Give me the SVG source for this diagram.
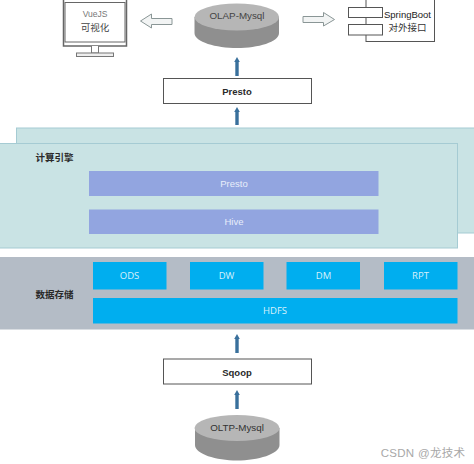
<svg xmlns="http://www.w3.org/2000/svg" width="474" height="464" viewBox="0 0 474 464">
<style>
text{font-family:"Liberation Sans","Noto Sans CJK SC",sans-serif;text-anchor:middle;dominant-baseline:central}
.seg{font-family:"Open Sans","Noto Sans CJK SC",sans-serif}
.box{fill:#fff;stroke:#555;stroke-width:1}
.teal{fill:#c9e3e4;stroke:#a5cbd3;stroke-width:1}
.pur{fill:#92a5e0}
.blu{fill:#00aeef}
.w{fill:#e8eefa;font-size:9.500px}
.c{fill:#d8f1fb;font-size:9.500px}
.hollow{fill:#f2f4f4;stroke:#8a9696;stroke-width:1}
.up{fill:#39709c}
.dbt{fill:#b6b6b6}
.dbs{fill:#8f8f8f}
.k{fill:#2a2a2a;font-size:9.500px;font-weight:bold}
.sys{fill:#444;font-size:9.500px}
</style>
<rect width="474" height="464" fill="#fff"/>
<g id="connectors">
<path class="hollow" d="M172 18.500V24.500H151.500V28L140.500 21L151.500 14V18.500Z"/>
<path class="hollow" d="M303 16.500V22.500H323.500V26L334.500 19.500L323.500 12.500V16.500Z"/>
<path class="up" d="M235.300 76V62H234.200L237 57L239.800 62H238.700V76Z"/>
<path class="up" d="M235.300 125V112H234.200L237 107L239.800 112H238.700V125Z"/>
<path class="up" d="M235.300 353V339H234.200L237 334L239.800 339H238.700V353Z"/>
<path class="up" d="M235.300 409V395H234.200L237 390L239.800 395H238.700V409Z"/>
</g>
<g id="vuejs">
<rect x="63.500" y="-3" width="63" height="49" fill="#fff" stroke="#666" stroke-width="1.500"/>
<rect x="65" y="2.500" width="60" height="39.500" fill="#fff" stroke="#666"/>
<path d="M91.500 46V53H98.500V46" fill="#fff" stroke="#777"/>
<rect x="76.500" y="53" width="37" height="3.500" fill="#eee" stroke="#777"/>
<text x="95" y="14" fill="#777" font-size="8.500">VueJS</text>
<text x="95" y="27" class="sys">可视化</text>
</g>
<g id="olap-mysql">
<path class="dbs" d="M194.500 17V33C194.500 42 216 48 237 48S279 42 279 33V17Z"/>
<ellipse class="dbt" cx="236.800" cy="17" rx="42.300" ry="13.500"/>
<text x="237" y="15" fill="#444" font-size="9.800">OLAP-Mysql</text>
</g>
<g id="springboot">
<rect x="366" y="-2" width="68.500" height="43.500" fill="#fff" stroke="#555"/>
<rect x="348.500" y="7.500" width="34" height="10" fill="#fff" stroke="#555"/>
<rect x="348.500" y="24.500" width="34" height="10.500" fill="#fff" stroke="#555"/>
<text x="407.500" y="14.500" fill="#222" font-size="9.500">SpringBoot</text>
<text x="407.500" y="27.500" fill="#333" font-size="9.500">对外接口</text>
</g>
<g id="presto-box">
<rect class="box" x="163.500" y="78.500" width="148" height="25"/>
<text x="237" y="91" class="k">Presto</text>
</g>
<g id="compute">
<rect class="teal" x="16.500" y="128" width="458" height="105"/>
<rect class="teal" x="-1" y="143.500" width="458.500" height="104.500"/>
<text x="54.500" y="157" class="k">计算引擎</text>
<g id="compute-presto"><rect class="pur" x="89" y="171" width="289.500" height="25"/><text x="234" y="183.500" class="w">Presto</text></g>
<g id="compute-hive"><rect class="pur" x="89" y="209.500" width="289.500" height="24.500"/><text x="234" y="221.500" class="w">Hive</text></g>
</g>
<g id="storage">
<rect x="0" y="257" width="474" height="72.500" fill="#b4bcc6"/>
<text x="54.500" y="294" class="k">数据存储</text>
<g id="ods"><rect class="blu" x="93" y="262" width="73.500" height="27.500"/><text x="129.500" y="275.500" class="c seg">ODS</text></g>
<g id="dw"><rect class="blu" x="190" y="262" width="73.500" height="27.500"/><text x="226.500" y="275.500" class="c seg">DW</text></g>
<g id="dm"><rect class="blu" x="286.500" y="262" width="73.500" height="27.500"/><text x="323.500" y="275.500" class="c seg">DM</text></g>
<g id="rpt"><rect class="blu" x="384" y="262" width="73.500" height="27.500"/><text x="420.500" y="275.500" class="c seg">RPT</text></g>
<g id="hdfs"><rect class="blu" x="93" y="298" width="364.500" height="25.500"/><text x="275" y="310.500" class="c seg">HDFS</text></g>
</g>
<g id="sqoop-box">
<rect class="box" x="163.500" y="359" width="148" height="25"/>
<text x="237" y="372" class="k">Sqoop</text>
</g>
<g id="oltp-mysql">
<path class="dbs" d="M195 428V445C195 454 216 460.500 237 460.500S279.500 454 279.500 445V428Z"/>
<ellipse class="dbt" cx="237" cy="428" rx="42.500" ry="13"/>
<text x="237" y="427" fill="#333" font-size="9.800">OLTP-Mysql</text>
</g>
<text x="423" y="452.500" fill="#a8a8a8" font-size="11.500" style="letter-spacing:.3px">CSDN @龙技术</text>
</svg>
